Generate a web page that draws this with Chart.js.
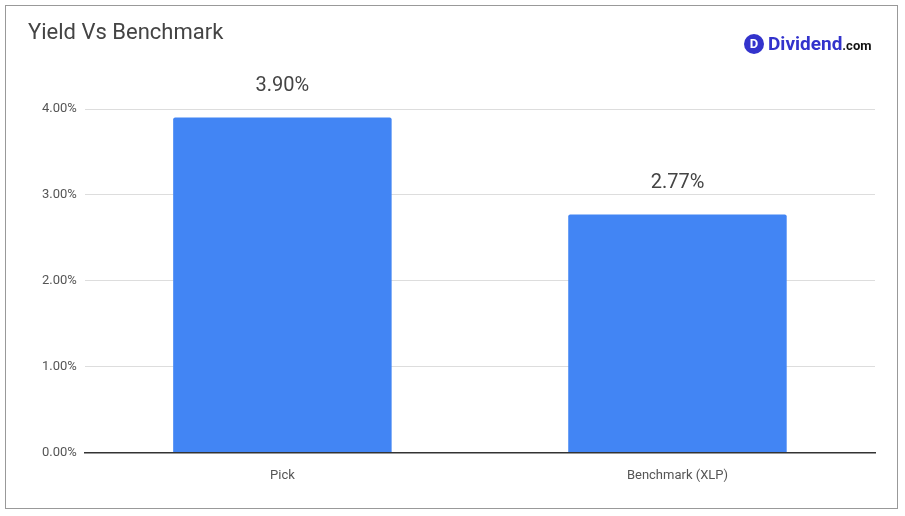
<!DOCTYPE html>
<html><head><meta charset="utf-8">
<script src="https://cdn.jsdelivr.net/npm/chart.js@4"></script>
<style>
body{margin:0;background:#fff;font-family:Roboto,Arial,sans-serif;}
#frame{position:absolute;left:5px;top:5px;width:893px;height:504px;border:1px solid #999;box-sizing:border-box;}
#title{position:absolute;left:28px;top:19px;font-size:22px;color:#444;}
#logo{position:absolute;left:744px;top:32px;font-size:19px;font-weight:bold;color:#3333cc;display:flex;align-items:center;}
#logo .d{width:20px;height:20px;border-radius:50%;background:#3333cc;color:#fff;font-size:13px;display:flex;align-items:center;justify-content:center;margin-right:4px;}
#logo .com{color:#111;font-size:13px;margin-top:4px;}
#wrap{position:absolute;left:0;top:0;width:905px;height:516px;}
</style></head><body>
<div id="wrap"><canvas id="c" width="905" height="516"></canvas></div>
<div id="frame"></div>
<div id="title">Yield Vs Benchmark</div>
<div id="logo"><span class="d">D</span>Dividend<span class="com">.com</span></div>
<script>
const categories=["Pick","Benchmark (XLP)"];
const yields=[3.90,2.77];
const tickValues=[0,1,2,3,4];
const labelPlugin={id:'lbl',afterDatasetsDraw(ch){const ctx=ch.ctx;const m=ch.getDatasetMeta(0);ctx.save();ctx.font='20px Roboto, Arial';ctx.fillStyle='#444';ctx.textAlign='center';ctx.textBaseline='bottom';m.data.forEach((b,i)=>{ctx.fillText(yields[i].toFixed(2)+'%',b.x,b.y-22);});ctx.restore();}};
new Chart(document.getElementById('c'),{type:'bar',
data:{labels:categories,datasets:[{data:yields,backgroundColor:'#4285f4',categoryPercentage:0.553,barPercentage:1,borderRadius:2}]},
options:{responsive:false,animation:false,
layout:{padding:{left:34,right:30,top:109,bottom:24}},
plugins:{legend:{display:false},tooltip:{enabled:false}},
scales:{x:{grid:{display:false},border:{color:'#333',width:1.5},ticks:{color:'#555',font:{size:13,family:'Roboto, Arial'},padding:8}},
y:{min:0,max:4,afterBuildTicks(a){a.ticks=tickValues.map(v=>({value:v}));},grid:{color:'#ddd',drawTicks:false},border:{display:false},
ticks:{color:'#555',font:{size:13,family:'Roboto, Arial'},padding:8,callback:v=>v.toFixed(2)+'%'}}}},
plugins:[labelPlugin]});
</script></body></html>
